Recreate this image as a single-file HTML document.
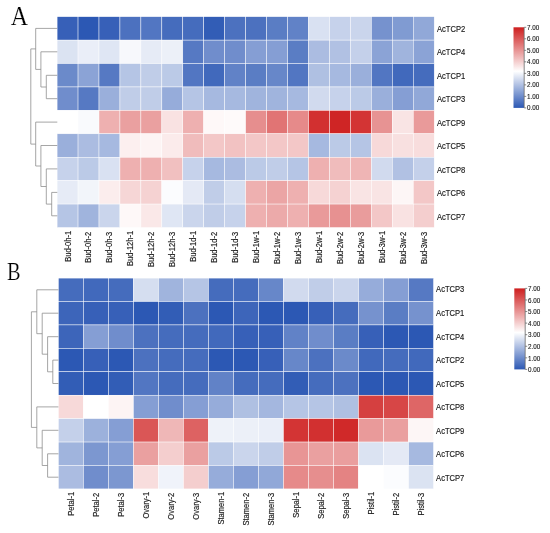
<!DOCTYPE html>
<html><head><meta charset="utf-8"><title>Heatmap</title>
<style>html,body{margin:0;padding:0;background:#fff}svg{display:block}text{font-family:"Liberation Sans",Arial,sans-serif;fill:#1a1a1a}.lab{font-family:"Liberation Serif","Times New Roman",serif;fill:#000}</style></head><body>
<svg width="550" height="533" viewBox="0 0 550 533">
<rect width="550" height="533" fill="#fff"/>
<g stroke="#fff" stroke-width="0.45">
<rect x="57.10" y="16.70" width="20.95" height="23.42" fill="#3760b8"/>
<rect x="78.05" y="16.70" width="20.95" height="23.42" fill="#2c58b4"/>
<rect x="99.00" y="16.70" width="20.95" height="23.42" fill="#3760b8"/>
<rect x="119.95" y="16.70" width="20.95" height="23.42" fill="#4c71bf"/>
<rect x="140.90" y="16.70" width="20.95" height="23.42" fill="#5276c2"/>
<rect x="161.85" y="16.70" width="20.95" height="23.42" fill="#456cbd"/>
<rect x="182.80" y="16.70" width="20.95" height="23.42" fill="#456cbd"/>
<rect x="203.75" y="16.70" width="20.95" height="23.42" fill="#325db6"/>
<rect x="224.70" y="16.70" width="20.95" height="23.42" fill="#4c71bf"/>
<rect x="245.65" y="16.70" width="20.95" height="23.42" fill="#4c71bf"/>
<rect x="266.60" y="16.70" width="20.95" height="23.42" fill="#5a7dc4"/>
<rect x="287.55" y="16.70" width="20.95" height="23.42" fill="#6182c7"/>
<rect x="308.50" y="16.70" width="20.95" height="23.42" fill="#d9e1f2"/>
<rect x="329.45" y="16.70" width="20.95" height="23.42" fill="#c6d2eb"/>
<rect x="350.40" y="16.70" width="20.95" height="23.42" fill="#cad5ec"/>
<rect x="371.35" y="16.70" width="20.95" height="23.42" fill="#7692ce"/>
<rect x="392.30" y="16.70" width="20.95" height="23.42" fill="#809bd2"/>
<rect x="413.25" y="16.70" width="20.95" height="23.42" fill="#91a8d8"/>
<rect x="57.10" y="40.12" width="20.95" height="23.42" fill="#dbe3f2"/>
<rect x="78.05" y="40.12" width="20.95" height="23.42" fill="#eaeef8"/>
<rect x="99.00" y="40.12" width="20.95" height="23.42" fill="#dfe6f4"/>
<rect x="119.95" y="40.12" width="20.95" height="23.42" fill="#f7f8fc"/>
<rect x="140.90" y="40.12" width="20.95" height="23.42" fill="#e6ebf6"/>
<rect x="161.85" y="40.12" width="20.95" height="23.42" fill="#ecf0f8"/>
<rect x="182.80" y="40.12" width="20.95" height="23.42" fill="#5679c3"/>
<rect x="203.75" y="40.12" width="20.95" height="23.42" fill="#708dcc"/>
<rect x="224.70" y="40.12" width="20.95" height="23.42" fill="#708dcc"/>
<rect x="245.65" y="40.12" width="20.95" height="23.42" fill="#859ed4"/>
<rect x="266.60" y="40.12" width="20.95" height="23.42" fill="#859ed4"/>
<rect x="287.55" y="40.12" width="20.95" height="23.42" fill="#5a7dc4"/>
<rect x="308.50" y="40.12" width="20.95" height="23.42" fill="#abbce1"/>
<rect x="329.45" y="40.12" width="20.95" height="23.42" fill="#b1c1e3"/>
<rect x="350.40" y="40.12" width="20.95" height="23.42" fill="#c4d0ea"/>
<rect x="371.35" y="40.12" width="20.95" height="23.42" fill="#8ba3d6"/>
<rect x="392.30" y="40.12" width="20.95" height="23.42" fill="#a0b4dd"/>
<rect x="413.25" y="40.12" width="20.95" height="23.42" fill="#8ba3d6"/>
<rect x="57.10" y="63.54" width="20.95" height="23.42" fill="#6b8aca"/>
<rect x="78.05" y="63.54" width="20.95" height="23.42" fill="#8ba3d6"/>
<rect x="99.00" y="63.54" width="20.95" height="23.42" fill="#5679c3"/>
<rect x="119.95" y="63.54" width="20.95" height="23.42" fill="#b5c5e5"/>
<rect x="140.90" y="63.54" width="20.95" height="23.42" fill="#c0cde8"/>
<rect x="161.85" y="63.54" width="20.95" height="23.42" fill="#bbcae7"/>
<rect x="182.80" y="63.54" width="20.95" height="23.42" fill="#5276c2"/>
<rect x="203.75" y="63.54" width="20.95" height="23.42" fill="#4169bc"/>
<rect x="224.70" y="63.54" width="20.95" height="23.42" fill="#6182c7"/>
<rect x="245.65" y="63.54" width="20.95" height="23.42" fill="#5a7dc4"/>
<rect x="266.60" y="63.54" width="20.95" height="23.42" fill="#6787c9"/>
<rect x="287.55" y="63.54" width="20.95" height="23.42" fill="#5276c2"/>
<rect x="308.50" y="63.54" width="20.95" height="23.42" fill="#afc0e2"/>
<rect x="329.45" y="63.54" width="20.95" height="23.42" fill="#a6b9e0"/>
<rect x="350.40" y="63.54" width="20.95" height="23.42" fill="#9aafdb"/>
<rect x="371.35" y="63.54" width="20.95" height="23.42" fill="#5276c2"/>
<rect x="392.30" y="63.54" width="20.95" height="23.42" fill="#4169bc"/>
<rect x="413.25" y="63.54" width="20.95" height="23.42" fill="#456cbd"/>
<rect x="57.10" y="86.97" width="20.95" height="23.42" fill="#708dcc"/>
<rect x="78.05" y="86.97" width="20.95" height="23.42" fill="#5679c3"/>
<rect x="99.00" y="86.97" width="20.95" height="23.42" fill="#9aafdb"/>
<rect x="119.95" y="86.97" width="20.95" height="23.42" fill="#c0cde8"/>
<rect x="140.90" y="86.97" width="20.95" height="23.42" fill="#c0cde8"/>
<rect x="161.85" y="86.97" width="20.95" height="23.42" fill="#96acda"/>
<rect x="182.80" y="86.97" width="20.95" height="23.42" fill="#b5c5e5"/>
<rect x="203.75" y="86.97" width="20.95" height="23.42" fill="#a6b9e0"/>
<rect x="224.70" y="86.97" width="20.95" height="23.42" fill="#a6b9e0"/>
<rect x="245.65" y="86.97" width="20.95" height="23.42" fill="#a0b4dd"/>
<rect x="266.60" y="86.97" width="20.95" height="23.42" fill="#a0b4dd"/>
<rect x="287.55" y="86.97" width="20.95" height="23.42" fill="#a6b9e0"/>
<rect x="308.50" y="86.97" width="20.95" height="23.42" fill="#d1daee"/>
<rect x="329.45" y="86.97" width="20.95" height="23.42" fill="#c6d2eb"/>
<rect x="350.40" y="86.97" width="20.95" height="23.42" fill="#bbcae7"/>
<rect x="371.35" y="86.97" width="20.95" height="23.42" fill="#9aafdb"/>
<rect x="392.30" y="86.97" width="20.95" height="23.42" fill="#859ed4"/>
<rect x="413.25" y="86.97" width="20.95" height="23.42" fill="#91a8d8"/>
<rect x="57.10" y="110.39" width="20.95" height="23.42" fill="#ffffff"/>
<rect x="78.05" y="110.39" width="20.95" height="23.42" fill="#f9fafd"/>
<rect x="99.00" y="110.39" width="20.95" height="23.42" fill="#eeb0b0"/>
<rect x="119.95" y="110.39" width="20.95" height="23.42" fill="#eaa0a0"/>
<rect x="140.90" y="110.39" width="20.95" height="23.42" fill="#eaa0a0"/>
<rect x="161.85" y="110.39" width="20.95" height="23.42" fill="#f9e2e2"/>
<rect x="182.80" y="110.39" width="20.95" height="23.42" fill="#eeb0b0"/>
<rect x="203.75" y="110.39" width="20.95" height="23.42" fill="#fef8f8"/>
<rect x="224.70" y="110.39" width="20.95" height="23.42" fill="#fefafa"/>
<rect x="245.65" y="110.39" width="20.95" height="23.42" fill="#e68e8e"/>
<rect x="266.60" y="110.39" width="20.95" height="23.42" fill="#e17474"/>
<rect x="287.55" y="110.39" width="20.95" height="23.42" fill="#e68a8a"/>
<rect x="308.50" y="110.39" width="20.95" height="23.42" fill="#d23030"/>
<rect x="329.45" y="110.39" width="20.95" height="23.42" fill="#cf2525"/>
<rect x="350.40" y="110.39" width="20.95" height="23.42" fill="#d33434"/>
<rect x="371.35" y="110.39" width="20.95" height="23.42" fill="#e79393"/>
<rect x="392.30" y="110.39" width="20.95" height="23.42" fill="#f9e4e4"/>
<rect x="413.25" y="110.39" width="20.95" height="23.42" fill="#e99a9a"/>
<rect x="57.10" y="133.81" width="20.95" height="23.42" fill="#9aafdb"/>
<rect x="78.05" y="133.81" width="20.95" height="23.42" fill="#abbce1"/>
<rect x="99.00" y="133.81" width="20.95" height="23.42" fill="#a6b9e0"/>
<rect x="119.95" y="133.81" width="20.95" height="23.42" fill="#fcefef"/>
<rect x="140.90" y="133.81" width="20.95" height="23.42" fill="#fdf4f4"/>
<rect x="161.85" y="133.81" width="20.95" height="23.42" fill="#fbebeb"/>
<rect x="182.80" y="133.81" width="20.95" height="23.42" fill="#f0bcbc"/>
<rect x="203.75" y="133.81" width="20.95" height="23.42" fill="#f3c7c7"/>
<rect x="224.70" y="133.81" width="20.95" height="23.42" fill="#f2c2c2"/>
<rect x="245.65" y="133.81" width="20.95" height="23.42" fill="#f3c7c7"/>
<rect x="266.60" y="133.81" width="20.95" height="23.42" fill="#f3c7c7"/>
<rect x="287.55" y="133.81" width="20.95" height="23.42" fill="#f3c7c7"/>
<rect x="308.50" y="133.81" width="20.95" height="23.42" fill="#a6b9e0"/>
<rect x="329.45" y="133.81" width="20.95" height="23.42" fill="#bbcae7"/>
<rect x="350.40" y="133.81" width="20.95" height="23.42" fill="#b5c5e5"/>
<rect x="371.35" y="133.81" width="20.95" height="23.42" fill="#f7d9d9"/>
<rect x="392.30" y="133.81" width="20.95" height="23.42" fill="#f8e0e0"/>
<rect x="413.25" y="133.81" width="20.95" height="23.42" fill="#f8dddd"/>
<rect x="57.10" y="157.23" width="20.95" height="23.42" fill="#c6d2eb"/>
<rect x="78.05" y="157.23" width="20.95" height="23.42" fill="#bbcae7"/>
<rect x="99.00" y="157.23" width="20.95" height="23.42" fill="#d9e1f2"/>
<rect x="119.95" y="157.23" width="20.95" height="23.42" fill="#eeb0b0"/>
<rect x="140.90" y="157.23" width="20.95" height="23.42" fill="#eeb0b0"/>
<rect x="161.85" y="157.23" width="20.95" height="23.42" fill="#f1c0c0"/>
<rect x="182.80" y="157.23" width="20.95" height="23.42" fill="#c6d2eb"/>
<rect x="203.75" y="157.23" width="20.95" height="23.42" fill="#a6b9e0"/>
<rect x="224.70" y="157.23" width="20.95" height="23.42" fill="#abbce1"/>
<rect x="245.65" y="157.23" width="20.95" height="23.42" fill="#bbcae7"/>
<rect x="266.60" y="157.23" width="20.95" height="23.42" fill="#c0cde8"/>
<rect x="287.55" y="157.23" width="20.95" height="23.42" fill="#b5c5e5"/>
<rect x="308.50" y="157.23" width="20.95" height="23.42" fill="#eeb0b0"/>
<rect x="329.45" y="157.23" width="20.95" height="23.42" fill="#f0bcbc"/>
<rect x="350.40" y="157.23" width="20.95" height="23.42" fill="#efb5b5"/>
<rect x="371.35" y="157.23" width="20.95" height="23.42" fill="#d1daee"/>
<rect x="392.30" y="157.23" width="20.95" height="23.42" fill="#b1c1e3"/>
<rect x="413.25" y="157.23" width="20.95" height="23.42" fill="#c4d0ea"/>
<rect x="57.10" y="180.66" width="20.95" height="23.42" fill="#e6ebf6"/>
<rect x="78.05" y="180.66" width="20.95" height="23.42" fill="#f2f5fa"/>
<rect x="99.00" y="180.66" width="20.95" height="23.42" fill="#fbeded"/>
<rect x="119.95" y="180.66" width="20.95" height="23.42" fill="#f6d6d6"/>
<rect x="140.90" y="180.66" width="20.95" height="23.42" fill="#f5d2d2"/>
<rect x="161.85" y="180.66" width="20.95" height="23.42" fill="#fbfcfe"/>
<rect x="182.80" y="180.66" width="20.95" height="23.42" fill="#e4e9f5"/>
<rect x="203.75" y="180.66" width="20.95" height="23.42" fill="#c0cde8"/>
<rect x="224.70" y="180.66" width="20.95" height="23.42" fill="#d5def0"/>
<rect x="245.65" y="180.66" width="20.95" height="23.42" fill="#eeb0b0"/>
<rect x="266.60" y="180.66" width="20.95" height="23.42" fill="#eba5a5"/>
<rect x="287.55" y="180.66" width="20.95" height="23.42" fill="#eeb0b0"/>
<rect x="308.50" y="180.66" width="20.95" height="23.42" fill="#f7d9d9"/>
<rect x="329.45" y="180.66" width="20.95" height="23.42" fill="#f5d2d2"/>
<rect x="350.40" y="180.66" width="20.95" height="23.42" fill="#f9e4e4"/>
<rect x="371.35" y="180.66" width="20.95" height="23.42" fill="#f9e4e4"/>
<rect x="392.30" y="180.66" width="20.95" height="23.42" fill="#fdf6f6"/>
<rect x="413.25" y="180.66" width="20.95" height="23.42" fill="#f3c7c7"/>
<rect x="57.10" y="204.08" width="20.95" height="23.42" fill="#b5c5e5"/>
<rect x="78.05" y="204.08" width="20.95" height="23.42" fill="#a0b4dd"/>
<rect x="99.00" y="204.08" width="20.95" height="23.42" fill="#cad5ec"/>
<rect x="119.95" y="204.08" width="20.95" height="23.42" fill="#fef8f8"/>
<rect x="140.90" y="204.08" width="20.95" height="23.42" fill="#fae8e8"/>
<rect x="161.85" y="204.08" width="20.95" height="23.42" fill="#dfe6f4"/>
<rect x="182.80" y="204.08" width="20.95" height="23.42" fill="#cad5ec"/>
<rect x="203.75" y="204.08" width="20.95" height="23.42" fill="#c0cde8"/>
<rect x="224.70" y="204.08" width="20.95" height="23.42" fill="#c6d2eb"/>
<rect x="245.65" y="204.08" width="20.95" height="23.42" fill="#eeb0b0"/>
<rect x="266.60" y="204.08" width="20.95" height="23.42" fill="#ecaaaa"/>
<rect x="287.55" y="204.08" width="20.95" height="23.42" fill="#eeb0b0"/>
<rect x="308.50" y="204.08" width="20.95" height="23.42" fill="#e99a9a"/>
<rect x="329.45" y="204.08" width="20.95" height="23.42" fill="#e79191"/>
<rect x="350.40" y="204.08" width="20.95" height="23.42" fill="#e99c9c"/>
<rect x="371.35" y="204.08" width="20.95" height="23.42" fill="#f3c7c7"/>
<rect x="392.30" y="204.08" width="20.95" height="23.42" fill="#f9e2e2"/>
<rect x="413.25" y="204.08" width="20.95" height="23.42" fill="#f4cece"/>
</g>
<g font-size="8.3" stroke="#1a1a1a" stroke-width="0.15">
<text transform="translate(437.00 31.66) scale(0.915 1)">AcTCP2</text>
<text transform="translate(437.00 55.16) scale(0.915 1)">AcTCP4</text>
<text transform="translate(437.00 78.66) scale(0.915 1)">AcTCP1</text>
<text transform="translate(437.00 102.15) scale(0.915 1)">AcTCP3</text>
<text transform="translate(437.00 125.65) scale(0.915 1)">AcTCP9</text>
<text transform="translate(437.00 149.15) scale(0.915 1)">AcTCP5</text>
<text transform="translate(437.00 172.64) scale(0.915 1)">AcTCP8</text>
<text transform="translate(437.00 196.14) scale(0.915 1)">AcTCP6</text>
<text transform="translate(437.00 219.64) scale(0.915 1)">AcTCP7</text>
<text transform="translate(70.53 230.80) rotate(-90) scale(0.91 1)" text-anchor="end">Bud-0h-1</text>
<text transform="translate(91.48 231.85) rotate(-90) scale(0.91 1)" text-anchor="end">Bud-0h-2</text>
<text transform="translate(112.42 231.85) rotate(-90) scale(0.91 1)" text-anchor="end">Bud-0h-3</text>
<text transform="translate(133.38 230.80) rotate(-90) scale(0.91 1)" text-anchor="end">Bud-12h-1</text>
<text transform="translate(154.32 231.85) rotate(-90) scale(0.91 1)" text-anchor="end">Bud-12h-2</text>
<text transform="translate(175.27 231.85) rotate(-90) scale(0.91 1)" text-anchor="end">Bud-12h-3</text>
<text transform="translate(196.22 230.80) rotate(-90) scale(0.91 1)" text-anchor="end">Bud-1d-1</text>
<text transform="translate(217.17 231.85) rotate(-90) scale(0.91 1)" text-anchor="end">Bud-1d-2</text>
<text transform="translate(238.12 231.85) rotate(-90) scale(0.91 1)" text-anchor="end">Bud-1d-3</text>
<text transform="translate(259.07 230.80) rotate(-90) scale(0.91 1)" text-anchor="end">Bud-1w-1</text>
<text transform="translate(280.02 231.85) rotate(-90) scale(0.91 1)" text-anchor="end">Bud-1w-2</text>
<text transform="translate(300.97 231.85) rotate(-90) scale(0.91 1)" text-anchor="end">Bud-1w-3</text>
<text transform="translate(321.93 230.80) rotate(-90) scale(0.91 1)" text-anchor="end">Bud-2w-1</text>
<text transform="translate(342.88 231.85) rotate(-90) scale(0.91 1)" text-anchor="end">Bud-2w-2</text>
<text transform="translate(363.82 231.85) rotate(-90) scale(0.91 1)" text-anchor="end">Bud-2w-3</text>
<text transform="translate(384.77 230.80) rotate(-90) scale(0.91 1)" text-anchor="end">Bud-3w-1</text>
<text transform="translate(405.73 231.85) rotate(-90) scale(0.91 1)" text-anchor="end">Bud-3w-2</text>
<text transform="translate(426.68 231.85) rotate(-90) scale(0.91 1)" text-anchor="end">Bud-3w-3</text>
</g>
<g stroke="#fff" stroke-width="0.45">
<rect x="58.40" y="278.10" width="25.01" height="23.42" fill="#456cbd"/>
<rect x="83.41" y="278.10" width="25.01" height="23.42" fill="#4169bc"/>
<rect x="108.41" y="278.10" width="25.01" height="23.42" fill="#456cbd"/>
<rect x="133.42" y="278.10" width="25.01" height="23.42" fill="#d5def0"/>
<rect x="158.43" y="278.10" width="25.01" height="23.42" fill="#a0b4dd"/>
<rect x="183.43" y="278.10" width="25.01" height="23.42" fill="#b5c5e5"/>
<rect x="208.44" y="278.10" width="25.01" height="23.42" fill="#456cbd"/>
<rect x="233.45" y="278.10" width="25.01" height="23.42" fill="#456cbd"/>
<rect x="258.45" y="278.10" width="25.01" height="23.42" fill="#6787c9"/>
<rect x="283.46" y="278.10" width="25.01" height="23.42" fill="#d1daee"/>
<rect x="308.47" y="278.10" width="25.01" height="23.42" fill="#c0cde8"/>
<rect x="333.47" y="278.10" width="25.01" height="23.42" fill="#cad5ec"/>
<rect x="358.48" y="278.10" width="25.01" height="23.42" fill="#96acda"/>
<rect x="383.49" y="278.10" width="25.01" height="23.42" fill="#859ed4"/>
<rect x="408.49" y="278.10" width="25.01" height="23.42" fill="#5679c3"/>
<rect x="58.40" y="301.52" width="25.01" height="23.42" fill="#3d65ba"/>
<rect x="83.41" y="301.52" width="25.01" height="23.42" fill="#3760b8"/>
<rect x="108.41" y="301.52" width="25.01" height="23.42" fill="#3760b8"/>
<rect x="133.42" y="301.52" width="25.01" height="23.42" fill="#2c58b4"/>
<rect x="158.43" y="301.52" width="25.01" height="23.42" fill="#325db6"/>
<rect x="183.43" y="301.52" width="25.01" height="23.42" fill="#4c71bf"/>
<rect x="208.44" y="301.52" width="25.01" height="23.42" fill="#2c58b4"/>
<rect x="233.45" y="301.52" width="25.01" height="23.42" fill="#3d65ba"/>
<rect x="258.45" y="301.52" width="25.01" height="23.42" fill="#2c58b4"/>
<rect x="283.46" y="301.52" width="25.01" height="23.42" fill="#2c58b4"/>
<rect x="308.47" y="301.52" width="25.01" height="23.42" fill="#3760b8"/>
<rect x="333.47" y="301.52" width="25.01" height="23.42" fill="#456cbd"/>
<rect x="358.48" y="301.52" width="25.01" height="23.42" fill="#7692ce"/>
<rect x="383.49" y="301.52" width="25.01" height="23.42" fill="#5a7dc4"/>
<rect x="408.49" y="301.52" width="25.01" height="23.42" fill="#7692ce"/>
<rect x="58.40" y="324.94" width="25.01" height="23.42" fill="#3d65ba"/>
<rect x="83.41" y="324.94" width="25.01" height="23.42" fill="#859ed4"/>
<rect x="108.41" y="324.94" width="25.01" height="23.42" fill="#708dcc"/>
<rect x="133.42" y="324.94" width="25.01" height="23.42" fill="#4c71bf"/>
<rect x="158.43" y="324.94" width="25.01" height="23.42" fill="#456cbd"/>
<rect x="183.43" y="324.94" width="25.01" height="23.42" fill="#456cbd"/>
<rect x="208.44" y="324.94" width="25.01" height="23.42" fill="#4169bc"/>
<rect x="233.45" y="324.94" width="25.01" height="23.42" fill="#3760b8"/>
<rect x="258.45" y="324.94" width="25.01" height="23.42" fill="#3760b8"/>
<rect x="283.46" y="324.94" width="25.01" height="23.42" fill="#6182c7"/>
<rect x="308.47" y="324.94" width="25.01" height="23.42" fill="#708dcc"/>
<rect x="333.47" y="324.94" width="25.01" height="23.42" fill="#5a7dc4"/>
<rect x="358.48" y="324.94" width="25.01" height="23.42" fill="#3760b8"/>
<rect x="383.49" y="324.94" width="25.01" height="23.42" fill="#2c58b4"/>
<rect x="408.49" y="324.94" width="25.01" height="23.42" fill="#2c58b4"/>
<rect x="58.40" y="348.37" width="25.01" height="23.42" fill="#2c58b4"/>
<rect x="83.41" y="348.37" width="25.01" height="23.42" fill="#3760b8"/>
<rect x="108.41" y="348.37" width="25.01" height="23.42" fill="#2c58b4"/>
<rect x="133.42" y="348.37" width="25.01" height="23.42" fill="#4c71bf"/>
<rect x="158.43" y="348.37" width="25.01" height="23.42" fill="#456cbd"/>
<rect x="183.43" y="348.37" width="25.01" height="23.42" fill="#456cbd"/>
<rect x="208.44" y="348.37" width="25.01" height="23.42" fill="#2c58b4"/>
<rect x="233.45" y="348.37" width="25.01" height="23.42" fill="#2c58b4"/>
<rect x="258.45" y="348.37" width="25.01" height="23.42" fill="#3760b8"/>
<rect x="283.46" y="348.37" width="25.01" height="23.42" fill="#6787c9"/>
<rect x="308.47" y="348.37" width="25.01" height="23.42" fill="#4c71bf"/>
<rect x="333.47" y="348.37" width="25.01" height="23.42" fill="#6b8aca"/>
<rect x="358.48" y="348.37" width="25.01" height="23.42" fill="#4169bc"/>
<rect x="383.49" y="348.37" width="25.01" height="23.42" fill="#456cbd"/>
<rect x="408.49" y="348.37" width="25.01" height="23.42" fill="#4169bc"/>
<rect x="58.40" y="371.79" width="25.01" height="23.42" fill="#325db6"/>
<rect x="83.41" y="371.79" width="25.01" height="23.42" fill="#2c58b4"/>
<rect x="108.41" y="371.79" width="25.01" height="23.42" fill="#325db6"/>
<rect x="133.42" y="371.79" width="25.01" height="23.42" fill="#5276c2"/>
<rect x="158.43" y="371.79" width="25.01" height="23.42" fill="#456cbd"/>
<rect x="183.43" y="371.79" width="25.01" height="23.42" fill="#456cbd"/>
<rect x="208.44" y="371.79" width="25.01" height="23.42" fill="#6182c7"/>
<rect x="233.45" y="371.79" width="25.01" height="23.42" fill="#456cbd"/>
<rect x="258.45" y="371.79" width="25.01" height="23.42" fill="#456cbd"/>
<rect x="283.46" y="371.79" width="25.01" height="23.42" fill="#325db6"/>
<rect x="308.47" y="371.79" width="25.01" height="23.42" fill="#456cbd"/>
<rect x="333.47" y="371.79" width="25.01" height="23.42" fill="#4c71bf"/>
<rect x="358.48" y="371.79" width="25.01" height="23.42" fill="#2c58b4"/>
<rect x="383.49" y="371.79" width="25.01" height="23.42" fill="#2c58b4"/>
<rect x="408.49" y="371.79" width="25.01" height="23.42" fill="#2c58b4"/>
<rect x="58.40" y="395.21" width="25.01" height="23.42" fill="#f7d9d9"/>
<rect x="83.41" y="395.21" width="25.01" height="23.42" fill="#ffffff"/>
<rect x="108.41" y="395.21" width="25.01" height="23.42" fill="#fdf4f4"/>
<rect x="133.42" y="395.21" width="25.01" height="23.42" fill="#859ed4"/>
<rect x="158.43" y="395.21" width="25.01" height="23.42" fill="#708dcc"/>
<rect x="183.43" y="395.21" width="25.01" height="23.42" fill="#859ed4"/>
<rect x="208.44" y="395.21" width="25.01" height="23.42" fill="#96acda"/>
<rect x="233.45" y="395.21" width="25.01" height="23.42" fill="#afc0e2"/>
<rect x="258.45" y="395.21" width="25.01" height="23.42" fill="#a4b7df"/>
<rect x="283.46" y="395.21" width="25.01" height="23.42" fill="#b5c5e5"/>
<rect x="308.47" y="395.21" width="25.01" height="23.42" fill="#b5c5e5"/>
<rect x="333.47" y="395.21" width="25.01" height="23.42" fill="#afc0e2"/>
<rect x="358.48" y="395.21" width="25.01" height="23.42" fill="#d54040"/>
<rect x="383.49" y="395.21" width="25.01" height="23.42" fill="#d74646"/>
<rect x="408.49" y="395.21" width="25.01" height="23.42" fill="#de6666"/>
<rect x="58.40" y="418.63" width="25.01" height="23.42" fill="#c4d0ea"/>
<rect x="83.41" y="418.63" width="25.01" height="23.42" fill="#9cb1dc"/>
<rect x="108.41" y="418.63" width="25.01" height="23.42" fill="#859ed4"/>
<rect x="133.42" y="418.63" width="25.01" height="23.42" fill="#da5656"/>
<rect x="158.43" y="418.63" width="25.01" height="23.42" fill="#efb7b7"/>
<rect x="183.43" y="418.63" width="25.01" height="23.42" fill="#dd6262"/>
<rect x="208.44" y="418.63" width="25.01" height="23.42" fill="#eef2f9"/>
<rect x="233.45" y="418.63" width="25.01" height="23.42" fill="#ecf0f8"/>
<rect x="258.45" y="418.63" width="25.01" height="23.42" fill="#eaeef8"/>
<rect x="283.46" y="418.63" width="25.01" height="23.42" fill="#d33434"/>
<rect x="308.47" y="418.63" width="25.01" height="23.42" fill="#d23030"/>
<rect x="333.47" y="418.63" width="25.01" height="23.42" fill="#d02929"/>
<rect x="358.48" y="418.63" width="25.01" height="23.42" fill="#e99a9a"/>
<rect x="383.49" y="418.63" width="25.01" height="23.42" fill="#eaa0a0"/>
<rect x="408.49" y="418.63" width="25.01" height="23.42" fill="#fdf6f6"/>
<rect x="58.40" y="442.06" width="25.01" height="23.42" fill="#a0b4dd"/>
<rect x="83.41" y="442.06" width="25.01" height="23.42" fill="#7c97d0"/>
<rect x="108.41" y="442.06" width="25.01" height="23.42" fill="#859ed4"/>
<rect x="133.42" y="442.06" width="25.01" height="23.42" fill="#eaa0a0"/>
<rect x="158.43" y="442.06" width="25.01" height="23.42" fill="#f4cece"/>
<rect x="183.43" y="442.06" width="25.01" height="23.42" fill="#eaa0a0"/>
<rect x="208.44" y="442.06" width="25.01" height="23.42" fill="#bbcae7"/>
<rect x="233.45" y="442.06" width="25.01" height="23.42" fill="#cad5ec"/>
<rect x="258.45" y="442.06" width="25.01" height="23.42" fill="#c0cde8"/>
<rect x="283.46" y="442.06" width="25.01" height="23.42" fill="#e89595"/>
<rect x="308.47" y="442.06" width="25.01" height="23.42" fill="#eaa0a0"/>
<rect x="333.47" y="442.06" width="25.01" height="23.42" fill="#ea9e9e"/>
<rect x="358.48" y="442.06" width="25.01" height="23.42" fill="#dbe3f2"/>
<rect x="383.49" y="442.06" width="25.01" height="23.42" fill="#e4e9f5"/>
<rect x="408.49" y="442.06" width="25.01" height="23.42" fill="#a6b9e0"/>
<rect x="58.40" y="465.48" width="25.01" height="23.42" fill="#abbce1"/>
<rect x="83.41" y="465.48" width="25.01" height="23.42" fill="#708dcc"/>
<rect x="108.41" y="465.48" width="25.01" height="23.42" fill="#7c97d0"/>
<rect x="133.42" y="465.48" width="25.01" height="23.42" fill="#f8dddd"/>
<rect x="158.43" y="465.48" width="25.01" height="23.42" fill="#f0f3fa"/>
<rect x="183.43" y="465.48" width="25.01" height="23.42" fill="#f4cece"/>
<rect x="208.44" y="465.48" width="25.01" height="23.42" fill="#96acda"/>
<rect x="233.45" y="465.48" width="25.01" height="23.42" fill="#859ed4"/>
<rect x="258.45" y="465.48" width="25.01" height="23.42" fill="#91a8d8"/>
<rect x="283.46" y="465.48" width="25.01" height="23.42" fill="#e68a8a"/>
<rect x="308.47" y="465.48" width="25.01" height="23.42" fill="#e68e8e"/>
<rect x="333.47" y="465.48" width="25.01" height="23.42" fill="#e48383"/>
<rect x="358.48" y="465.48" width="25.01" height="23.42" fill="#ffffff"/>
<rect x="383.49" y="465.48" width="25.01" height="23.42" fill="#fbfcfe"/>
<rect x="408.49" y="465.48" width="25.01" height="23.42" fill="#dbe3f2"/>
</g>
<g font-size="8.3" stroke="#1a1a1a" stroke-width="0.15">
<text transform="translate(436.10 292.41) scale(0.915 1)">AcTCP3</text>
<text transform="translate(436.10 315.97) scale(0.915 1)">AcTCP1</text>
<text transform="translate(436.10 339.54) scale(0.915 1)">AcTCP4</text>
<text transform="translate(436.10 363.10) scale(0.915 1)">AcTCP2</text>
<text transform="translate(436.10 386.66) scale(0.915 1)">AcTCP5</text>
<text transform="translate(436.10 410.22) scale(0.915 1)">AcTCP8</text>
<text transform="translate(436.10 433.78) scale(0.915 1)">AcTCP9</text>
<text transform="translate(436.10 457.35) scale(0.915 1)">AcTCP6</text>
<text transform="translate(436.10 480.91) scale(0.915 1)">AcTCP7</text>
<text transform="translate(73.85 491.80) rotate(-90) scale(0.91 1)" text-anchor="end">Petal-1</text>
<text transform="translate(98.86 492.85) rotate(-90) scale(0.91 1)" text-anchor="end">Petal-2</text>
<text transform="translate(123.87 492.85) rotate(-90) scale(0.91 1)" text-anchor="end">Petal-3</text>
<text transform="translate(148.87 491.80) rotate(-90) scale(0.91 1)" text-anchor="end">Ovary-1</text>
<text transform="translate(173.88 492.85) rotate(-90) scale(0.91 1)" text-anchor="end">Ovary-2</text>
<text transform="translate(198.89 492.85) rotate(-90) scale(0.91 1)" text-anchor="end">Ovary-3</text>
<text transform="translate(223.89 491.80) rotate(-90) scale(0.91 1)" text-anchor="end">Stamen-1</text>
<text transform="translate(248.90 492.85) rotate(-90) scale(0.91 1)" text-anchor="end">Stamen-2</text>
<text transform="translate(273.91 492.85) rotate(-90) scale(0.91 1)" text-anchor="end">Stamen-3</text>
<text transform="translate(298.91 491.80) rotate(-90) scale(0.91 1)" text-anchor="end">Sepal-1</text>
<text transform="translate(323.92 492.85) rotate(-90) scale(0.91 1)" text-anchor="end">Sepal-2</text>
<text transform="translate(348.93 492.85) rotate(-90) scale(0.91 1)" text-anchor="end">Sepal-3</text>
<text transform="translate(373.93 491.80) rotate(-90) scale(0.91 1)" text-anchor="end">Pistil-1</text>
<text transform="translate(398.94 492.85) rotate(-90) scale(0.91 1)" text-anchor="end">Pistil-2</text>
<text transform="translate(423.95 492.85) rotate(-90) scale(0.91 1)" text-anchor="end">Pistil-3</text>
</g>
<g fill="none" stroke="#888" stroke-width="0.75">
<path d="M57.3 75.3H46.3V98.7H57.3"/>
<path d="M57.3 51.8H40.9V87.0H46.3"/>
<path d="M57.3 28.4H35.7V69.4H40.9"/>
<path d="M57.3 192.4H51.7V215.8H57.3"/>
<path d="M57.3 168.9H46.3V204.1H51.7"/>
<path d="M57.3 145.5H40.9V186.5H46.3"/>
<path d="M57.3 122.1H35.7V166.0H40.9"/>
<path d="M35.7 48.9H30.8V144.1H35.7"/>
</g>
<g fill="none" stroke="#888" stroke-width="0.75">
<path d="M58.4 360.1H52.8V383.5H58.4"/>
<path d="M58.4 336.7H47.6V371.8H52.8"/>
<path d="M58.4 313.2H42.2V354.2H47.6"/>
<path d="M58.4 289.8H36.8V333.7H42.2"/>
<path d="M58.4 453.8H47.6V477.2H58.4"/>
<path d="M58.4 430.3H42.2V465.5H47.6"/>
<path d="M58.4 406.9H36.8V447.9H42.2"/>
<path d="M36.8 311.8H31.4V427.4H36.8"/>
</g>
<defs><linearGradient id="cb" x1="0" y1="0" x2="0" y2="1"><stop offset="0" stop-color="rgb(206,30,30)"/><stop offset="0.545" stop-color="#fff"/><stop offset="1" stop-color="rgb(44,88,180)"/></linearGradient></defs>
<rect x="513.5" y="27.3" width="10.5" height="80.6" fill="url(#cb)"/>
<g stroke="#666" stroke-width="0.8" fill="none">
<path d="M524.2 27.3V107.9M524.2 107.90h2M524.2 96.39h2M524.2 84.87h2M524.2 73.36h2M524.2 61.84h2M524.2 50.33h2M524.2 38.81h2M524.2 27.30h2"/></g>
<g font-size="6.3" stroke="#1a1a1a" stroke-width="0.12">
<text x="526.9" y="110.15">0.00</text>
<text x="526.9" y="98.64">1.00</text>
<text x="526.9" y="87.12">2.00</text>
<text x="526.9" y="75.61">3.00</text>
<text x="526.9" y="64.09">4.00</text>
<text x="526.9" y="52.58">5.00</text>
<text x="526.9" y="41.06">6.00</text>
<text x="526.9" y="29.55">7.00</text>
</g>
<rect x="514.3" y="288.4" width="10.7" height="81.0" fill="url(#cb)"/>
<g stroke="#666" stroke-width="0.8" fill="none">
<path d="M525.2 288.4V369.4M525.2 369.40h2M525.2 357.83h2M525.2 346.26h2M525.2 334.69h2M525.2 323.11h2M525.2 311.54h2M525.2 299.97h2M525.2 288.40h2"/></g>
<g font-size="6.3" stroke="#1a1a1a" stroke-width="0.12">
<text x="527.9" y="372.10">0.00</text>
<text x="527.9" y="360.53">1.00</text>
<text x="527.9" y="348.96">2.00</text>
<text x="527.9" y="337.39">3.00</text>
<text x="527.9" y="325.81">4.00</text>
<text x="527.9" y="314.24">5.00</text>
<text x="527.9" y="302.67">6.00</text>
<text x="527.9" y="291.10">7.00</text>
</g>
<text class="lab" font-size="27.5" stroke="#fff" stroke-width="0.22" transform="translate(10.75 24.8) scale(0.873 1)">A</text>
<text class="lab" font-size="24.7" stroke="#fff" stroke-width="0.2" transform="translate(6.95 279.8) scale(0.825 1)">B</text>
</svg></body></html>
